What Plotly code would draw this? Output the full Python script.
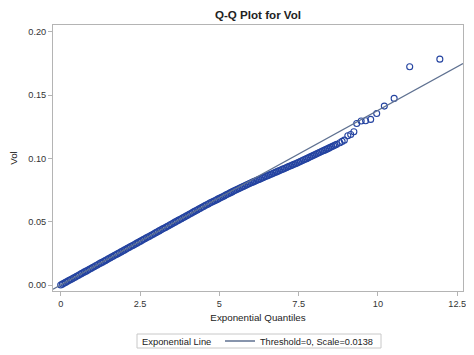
import plotly.graph_objects as go

quantiles = [
    0.00, 0.05, 0.10, 0.15, 0.20, 0.25, 0.30, 0.35, 0.40, 0.45,
    0.50, 0.55, 0.60, 0.65, 0.70, 0.75, 0.80, 0.85, 0.90, 0.95,
    1.00, 1.05, 1.10, 1.15, 1.20, 1.25, 1.30, 1.35, 1.40, 1.45,
    1.50, 1.55, 1.60, 1.65, 1.70, 1.75, 1.80, 1.85, 1.90, 1.95,
    2.00, 2.05, 2.10, 2.15, 2.20, 2.25, 2.30, 2.35, 2.40, 2.45,
    2.50, 2.55, 2.60, 2.65, 2.70, 2.75, 2.80, 2.85, 2.90, 2.95,
    3.00, 3.05, 3.10, 3.15, 3.20, 3.25, 3.30, 3.35, 3.40, 3.45,
    3.50, 3.55, 3.60, 3.65, 3.70, 3.75, 3.80, 3.85, 3.90, 3.95,
    4.00, 4.05, 4.10, 4.15, 4.20, 4.25, 4.30, 4.35, 4.40, 4.45,
    4.50, 4.55, 4.60, 4.65, 4.70, 4.75, 4.80, 4.85, 4.90, 4.95,
    5.00, 5.05, 5.10, 5.15, 5.20, 5.25, 5.30, 5.35, 5.40, 5.45,
    5.50, 5.55, 5.60, 5.65, 5.70, 5.75, 5.80, 5.85, 5.90, 5.95,
    6.00, 6.05, 6.10, 6.15, 6.20, 6.25, 6.30, 6.35, 6.40, 6.45,
    6.50, 6.55, 6.60, 6.65, 6.70, 6.75, 6.80, 6.85, 6.90, 6.95,
    7.00, 7.05, 7.10, 7.15, 7.20, 7.25, 7.30, 7.35, 7.40, 7.45,
    7.50, 7.55, 7.60, 7.65, 7.70, 7.75, 7.80, 7.85, 7.90, 7.95,
    8.00, 8.05, 8.10, 8.15, 8.20, 8.25, 8.30, 8.35, 8.40, 8.45,
    8.50, 8.55, 8.60, 8.65, 8.70,
    8.80, 8.87, 8.94, 9.05, 9.14, 9.24, 9.33, 9.47, 9.61, 9.77,
    9.96, 10.20, 10.51, 11.00, 11.95,
]
vol = [
    0.0000, 0.0007, 0.0014, 0.0021, 0.0028, 0.0035, 0.0041, 0.0048, 0.0055, 0.0062,
    0.0069, 0.0076, 0.0083, 0.0090, 0.0097, 0.0104, 0.0110, 0.0117, 0.0124, 0.0131,
    0.0138, 0.0145, 0.0152, 0.0159, 0.0166, 0.0173, 0.0179, 0.0186, 0.0193, 0.0200,
    0.0207, 0.0214, 0.0221, 0.0228, 0.0235, 0.0242, 0.0248, 0.0255, 0.0262, 0.0269,
    0.0276, 0.0283, 0.0290, 0.0297, 0.0304, 0.0311, 0.0317, 0.0324, 0.0331, 0.0338,
    0.0345, 0.0352, 0.0359, 0.0366, 0.0373, 0.0380, 0.0386, 0.0393, 0.0400, 0.0407,
    0.0414, 0.0421, 0.0428, 0.0435, 0.0442, 0.0449, 0.0455, 0.0462, 0.0469, 0.0476,
    0.0483, 0.0490, 0.0497, 0.0504, 0.0511, 0.0518, 0.0524, 0.0531, 0.0538, 0.0545,
    0.0552, 0.0559, 0.0566, 0.0573, 0.0580, 0.0587, 0.0593, 0.0600, 0.0607, 0.0614,
    0.0621, 0.0628, 0.0635, 0.0641, 0.0648, 0.0654, 0.0660, 0.0666, 0.0672, 0.0679,
    0.0685, 0.0691, 0.0698, 0.0704, 0.0711, 0.0717, 0.0723, 0.0730, 0.0736, 0.0743,
    0.0749, 0.0755, 0.0761, 0.0767, 0.0773, 0.0779, 0.0784, 0.0790, 0.0796, 0.0802,
    0.0808, 0.0813, 0.0819, 0.0824, 0.0830, 0.0835, 0.0840, 0.0846, 0.0851, 0.0857,
    0.0862, 0.0867, 0.0873, 0.0878, 0.0884, 0.0889, 0.0894, 0.0900, 0.0905, 0.0911,
    0.0916, 0.0921, 0.0927, 0.0932, 0.0938, 0.0943, 0.0948, 0.0954, 0.0959, 0.0965,
    0.0970, 0.0976, 0.0982, 0.0988, 0.0994, 0.0999, 0.1005, 0.1011, 0.1017, 0.1023,
    0.1029, 0.1035, 0.1041, 0.1047, 0.1053, 0.1059, 0.1064, 0.1070, 0.1076, 0.1082,
    0.1088, 0.1094, 0.1100, 0.1106, 0.1112,
    0.1125, 0.1135, 0.1145, 0.1180, 0.1190, 0.1211, 0.1277, 0.1296, 0.1298, 0.1309,
    0.1356, 0.1414, 0.1475, 0.1725, 0.1785,
]

threshold = 0.0
scale = 0.0138
legend_title = "Exponential Line"
legend_label = "Threshold=0, Scale=0.0138"
x_range = [-0.243, 12.68]
y_range = [-0.0047, 0.2055]
x_ticks = [0, 2.5, 5, 7.5, 10, 12.5]
x_tick_labels = ["0", "2.5", "5", "7.5", "10", "12.5"]
y_ticks = [0.00, 0.05, 0.10, 0.15, 0.20]
y_tick_labels = ["0.00", "0.05", "0.10", "0.15", "0.20"]

line_x = [x_range[0], x_range[1]]
line_y = [threshold + scale * v for v in line_x]

FONT = "Liberation Sans, Arial, sans-serif"
OFF = 8  # page body margin offset
W, H = 474 - OFF, 355 - OFF
L, T = 53 - OFF, 25 - OFF
PR, PB = 463 - OFF, 291 - OFF
R, B = W - PR, H - PB
PW, PH = PR - L, PB - T


def px_x(p):
    return (p - OFF - L) / PW


def px_y(p):
    return (PB - (p - OFF)) / PH


fig = go.Figure()
fig.add_trace(go.Scatter(
    x=quantiles, y=vol, mode="markers",
    marker=dict(symbol="circle-open", size=6, color="#2443a0",
                line=dict(width=1.1, color="#2443a0")),
    showlegend=False,
))
fig.add_trace(go.Scatter(
    x=line_x, y=line_y, mode="lines",
    line=dict(color="#5f7191", width=1.3),
    name=legend_label,
    showlegend=True,
))

axis_common = dict(
    showgrid=False, zeroline=False, showline=True, mirror=True,
    linecolor="#b4b4b4", linewidth=1, automargin=False,
    ticks="outside", ticklen=4, tickcolor="#b4b4b4", tickwidth=1,
    tickfont=dict(family=FONT, size=9.2, color="#333333"),
)

fig.update_layout(
    width=W, height=H,
    paper_bgcolor="white", plot_bgcolor="white",
    margin=dict(l=L, r=R, t=T, b=B, autoexpand=False),
    title=dict(text="<b>Q-Q Plot for Vol</b>", x=0.5, xref="paper",
               y=1 - (15 - OFF) / H, yanchor="middle",
               font=dict(family=FONT, size=11.6, color="#222222")),
    xaxis=dict(range=x_range, tickvals=x_ticks, ticktext=x_tick_labels,
               title=dict(text="Exponential Quantiles", standoff=6,
                          font=dict(family=FONT, size=9.8, color="#222222")),
               **axis_common),
    yaxis=dict(range=y_range, tickvals=y_ticks, ticktext=y_tick_labels,
               title=dict(text="Vol", standoff=10,
                          font=dict(family=FONT, size=9.8, color="#222222")),
               **axis_common),
    legend=dict(
        orientation="h", xref="paper", x=px_x(220), xanchor="left",
        yref="paper", y=px_y(341), yanchor="middle",
        font=dict(family=FONT, size=9.2, color="#222222"),
        borderwidth=0, bgcolor="rgba(0,0,0,0)",
    ),
    annotations=[dict(
        text=legend_title, xref="paper", yref="paper",
        x=px_x(140), y=px_y(341), xanchor="left", yanchor="middle",
        showarrow=False, font=dict(family=FONT, size=9.4, color="#222222"),
    )],
    shapes=[dict(
        type="rect", xref="paper", yref="paper",
        x0=px_x(137), x1=px_x(381), y0=px_y(334), y1=px_y(348),
        line=dict(color="#c8c8c8", width=1), fillcolor="rgba(0,0,0,0)",
    )],
)

fig.write_html("out.html")
